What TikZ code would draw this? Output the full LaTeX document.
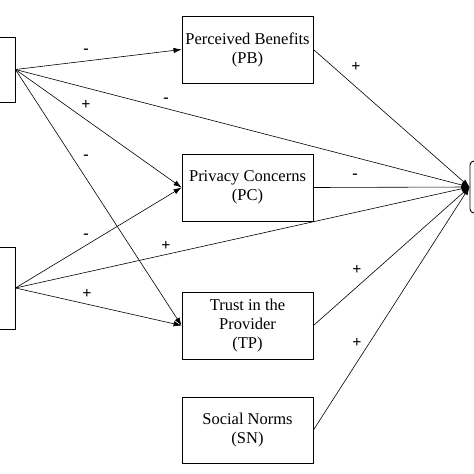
\documentclass[tikz,border=0pt]{standalone}
\usepackage{fontspec}
\setmainfont{Liberation Serif}
\usetikzlibrary{arrows.meta}
\tikzset{
  box/.style={draw, line width=0.9pt, minimum width=131pt, minimum height=67pt, align=center, inner sep=2pt, font=\fontsize{16.5}{19}\selectfont},
  lbox/.style={draw, line width=0.9pt, minimum width=35pt, inner sep=0pt},
  conn/.style={line width=0.6pt, -{Latex[length=8pt,width=5.5pt]}},
  sign/.style={font=\bfseries\fontsize{16}{16}\selectfont, inner sep=0pt}
}
\begin{document}
\begin{tikzpicture}[x=1pt,y=-1pt]
\useasboundingbox (0,0) rectangle (474,474);
\clip (0,0) rectangle (474,474);
\fill[white] (0,0) rectangle (474,474);
\node[lbox, minimum height=65pt] (L1) at (-2.5,69.5) {};
\node[lbox, minimum height=82pt] (L2) at (-2.5,288) {};
\node[box] (PB) at (247.5,49.5) {Perceived Benefits\\(PB)};
\node[box] (PC) at (247.5,187.5) {Privacy Concerns\\(PC)};
\node[box] (TP) at (247.5,325.5) {Trust in the\\Provider\\(TP)};
\node[box, minimum height=66pt] (SN) at (247.5,430) {Social Norms\\(SN)};
\node[draw, line width=0.9pt, rounded corners=4pt, minimum width=20pt, minimum height=52pt, inner sep=0pt] (BI) at (480,187) {};
% from L1
\draw[conn] (L1.east) -- (PB.west);
\draw[conn] (L1.east) -- (BI.west);
\draw[conn] (L1.east) -- (PC.west);
\draw[conn] (L1.east) -- (TP.west);
% from L2
\draw[conn] (L2.east) -- (PC.west);
\draw[conn] (L2.east) -- (BI.west);
\draw[conn] (L2.east) -- (TP.west);
% to BI
\draw[conn] (PB.east) -- (BI.west);
\draw[conn] (PC.east) -- (BI.west);
\draw[conn] (TP.east) -- (BI.west);
\draw[conn] (SN.east) -- (BI.west);
% signs
\node[sign] (s1) at (86,51) {-};
\node[sign] (s2) at (166,100) {-};
\node[sign] (s3) at (86,105) {+};
\node[sign] (s4) at (86,157) {-};
\node[sign] (s5) at (86,236) {-};
\node[sign] (s6) at (166,246) {+};
\node[sign] (s7) at (87,294) {+};
\node[sign] (s8) at (356,67) {+};
\node[sign] (s9) at (355,176) {-};
\node[sign] (s10) at (357,270) {+};
\node[sign] (s11) at (357,343) {+};
\end{tikzpicture}
\end{document}
